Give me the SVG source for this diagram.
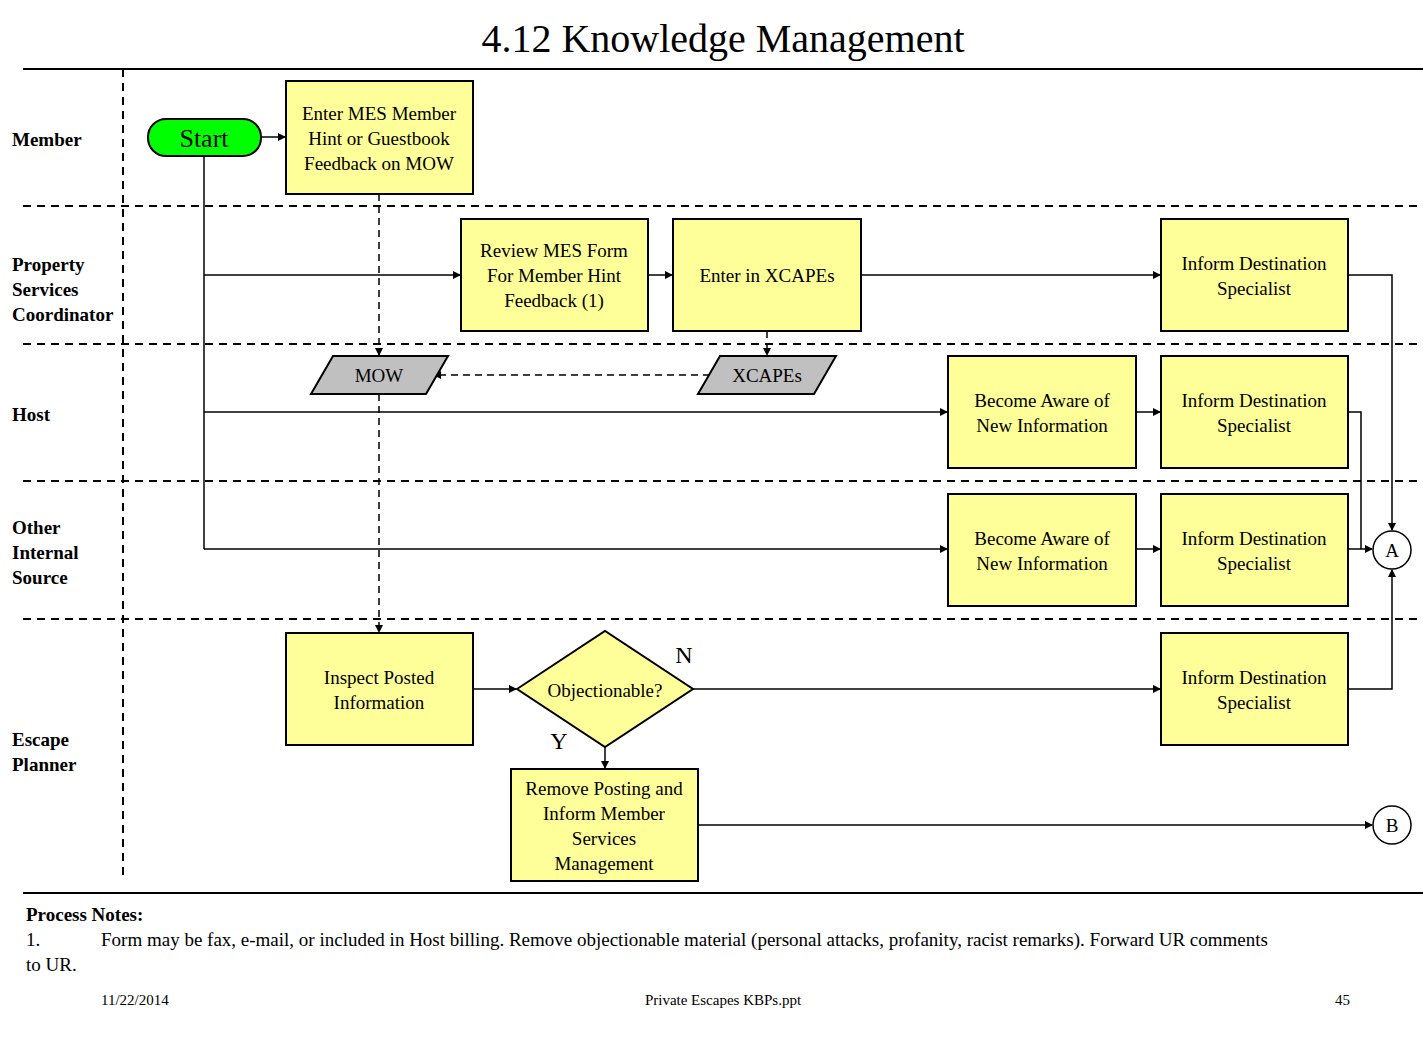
<svg xmlns="http://www.w3.org/2000/svg" width="1423" height="1056" viewBox="0 0 1423 1056">
<style>
text{font-family:"Liberation Serif",serif;fill:#000}
.lane{font-size:19px;font-weight:bold}
.bx{fill:#ffff99;stroke:#000;stroke-width:2}
.t{font-size:19px;text-anchor:middle}
.ln{stroke:#000;stroke-width:2;fill:none}
.dl{stroke:#000;stroke-width:2;fill:none;stroke-dasharray:8,6}
.c{stroke:#000;stroke-width:1.5;fill:none}
.cd{stroke:#000;stroke-width:1.5;fill:none;stroke-dasharray:7,5}
.ft{font-size:15px}
</style>
<defs><marker id="ar" markerWidth="8" markerHeight="8" refX="7" refY="4" orient="auto" markerUnits="userSpaceOnUse"><path d="M0,0 L8,4 L0,8 z" fill="#000"/></marker></defs>
<rect width="1423" height="1056" fill="#fff"/>
<text x="723" y="52" font-size="40" text-anchor="middle">4.12 Knowledge Management</text>
<g id="frame">
<line class="ln" x1="23" y1="69" x2="1423" y2="69"/>
<line class="ln" x1="23" y1="893" x2="1423" y2="893"/>
<line class="dl" x1="123" y1="69" x2="123" y2="875"/>
<line class="dl" x1="23" y1="206" x2="1423" y2="206"/>
<line class="dl" x1="23" y1="344" x2="1423" y2="344"/>
<line class="dl" x1="23" y1="481" x2="1423" y2="481"/>
<line class="dl" x1="23" y1="619" x2="1423" y2="619"/>
<text class="lane" x="12" y="146">Member</text>
<text class="lane" x="12" y="271">Property</text><text class="lane" x="12" y="296">Services</text><text class="lane" x="12" y="321">Coordinator</text>
<text class="lane" x="12" y="421">Host</text>
<text class="lane" x="12" y="534">Other</text><text class="lane" x="12" y="559">Internal</text><text class="lane" x="12" y="584">Source</text>
<text class="lane" x="12" y="746">Escape</text><text class="lane" x="12" y="771">Planner</text>
</g>
<g id="connectors">
<path class="c" d="M261,137H285" marker-end="url(#ar)"/>
<path class="c" d="M204,156V549"/>
<path class="c" d="M204,275H460" marker-end="url(#ar)"/>
<path class="c" d="M204,412H947" marker-end="url(#ar)"/>
<path class="c" d="M204,549H947" marker-end="url(#ar)"/>
<path class="c" d="M648,275H672" marker-end="url(#ar)"/>
<path class="c" d="M861,275H1160" marker-end="url(#ar)"/>
<path class="c" d="M1348,275H1392V530" marker-end="url(#ar)"/>
<path class="c" d="M1136,412H1160" marker-end="url(#ar)"/>
<path class="c" d="M1136,549H1160" marker-end="url(#ar)"/>
<path class="c" d="M1348,412H1361V549" />
<path class="c" d="M1348,549H1372" marker-end="url(#ar)"/>
<path class="c" d="M1348,689H1392V570" marker-end="url(#ar)"/>
<path class="c" d="M473,689H516" marker-end="url(#ar)"/>
<path class="c" d="M693,689H1160" marker-end="url(#ar)"/>
<path class="c" d="M605,747V768" marker-end="url(#ar)"/>
<path class="c" d="M698,825H1372" marker-end="url(#ar)"/>
<path class="cd" d="M379,194V355" marker-end="url(#ar)"/>
<path class="cd" d="M767,331V355" marker-end="url(#ar)"/>
<path class="cd" d="M710,375H434" marker-end="url(#ar)"/>
<path class="cd" d="M379,394V632" marker-end="url(#ar)"/>
</g>
<g id="start"><rect x="148" y="119" width="113" height="37" rx="18" fill="#00ff00" stroke="#000" stroke-width="2"/><text class="t" x="204" y="147" font-size="26" style="font-size:26px">Start</text></g>
<g id="enterMES"><rect class="bx" x="286" y="81" width="187" height="113"/><text class="t" x="379" y="120">Enter MES Member</text><text class="t" x="379" y="145">Hint or Guestbook</text><text class="t" x="379" y="170">Feedback on MOW</text></g>
<g id="review"><rect class="bx" x="461" y="219" width="187" height="112"/><text class="t" x="554" y="257">Review MES Form</text><text class="t" x="554" y="282">For Member Hint</text><text class="t" x="554" y="307">Feedback (1)</text></g>
<g id="enterX"><rect class="bx" x="673" y="219" width="188" height="112"/><text class="t" x="767" y="282">Enter in XCAPEs</text></g>
<g id="inform1"><rect class="bx" x="1161" y="219" width="187" height="112"/><text class="t" x="1254" y="270">Inform Destination</text><text class="t" x="1254" y="295">Specialist</text></g>
<g id="mow"><polygon points="311,394 333,356 448,356 426,394" fill="#c0c0c0" stroke="#000" stroke-width="2"/><text class="t" x="379" y="382">MOW</text></g>
<g id="xcapes"><polygon points="698,394 720,356 836,356 814,394" fill="#c0c0c0" stroke="#000" stroke-width="2"/><text class="t" x="767" y="382">XCAPEs</text></g>
<g id="aware1"><rect class="bx" x="948" y="356" width="188" height="112"/><text class="t" x="1042" y="407">Become Aware of</text><text class="t" x="1042" y="432">New Information</text></g>
<g id="inform2"><rect class="bx" x="1161" y="356" width="187" height="112"/><text class="t" x="1254" y="407">Inform Destination</text><text class="t" x="1254" y="432">Specialist</text></g>
<g id="aware2"><rect class="bx" x="948" y="494" width="188" height="112"/><text class="t" x="1042" y="545">Become Aware of</text><text class="t" x="1042" y="570">New Information</text></g>
<g id="inform3"><rect class="bx" x="1161" y="494" width="187" height="112"/><text class="t" x="1254" y="545">Inform Destination</text><text class="t" x="1254" y="570">Specialist</text></g>
<g id="inspect"><rect class="bx" x="286" y="633" width="187" height="112"/><text class="t" x="379" y="684">Inspect Posted</text><text class="t" x="379" y="709">Information</text></g>
<g id="decision"><polygon points="517,689 605,631 693,689 605,747" fill="#ffff99" stroke="#000" stroke-width="2"/><text class="t" x="605" y="697">Objectionable?</text><text x="684" y="663" font-size="24" text-anchor="middle">N</text><text x="559" y="749" font-size="24" text-anchor="middle">Y</text></g>
<g id="inform4"><rect class="bx" x="1161" y="633" width="187" height="112"/><text class="t" x="1254" y="684">Inform Destination</text><text class="t" x="1254" y="709">Specialist</text></g>
<g id="remove"><rect class="bx" x="511" y="769" width="187" height="112"/><text class="t" x="604" y="795">Remove Posting and</text><text class="t" x="604" y="820">Inform Member</text><text class="t" x="604" y="845">Services</text><text class="t" x="604" y="870">Management</text></g>
<g id="A"><circle cx="1392" cy="550" r="19" fill="#fff" stroke="#000" stroke-width="1.5"/><text class="t" x="1392" y="557">A</text></g>
<g id="B"><circle cx="1392" cy="825" r="19" fill="#fff" stroke="#000" stroke-width="1.5"/><text class="t" x="1392" y="832">B</text></g>
<g id="notes">
<text x="26" y="921" font-size="19" font-weight="bold">Process Notes:</text>
<text x="26" y="946" font-size="19">1.</text>
<text x="101" y="946" font-size="19">Form may be fax, e-mail, or included in Host billing. Remove objectionable material (personal attacks, profanity, racist remarks).  Forward UR comments</text>
<text x="26" y="971" font-size="19">to UR.</text>
<text class="ft" x="101" y="1005">11/22/2014</text>
<text class="ft" x="723" y="1005" text-anchor="middle">Private Escapes KBPs.ppt</text>
<text class="ft" x="1335" y="1005">45</text>
</g>
</svg>
